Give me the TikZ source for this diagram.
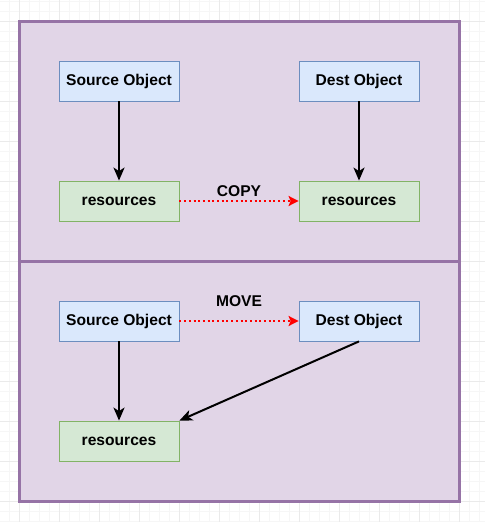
\documentclass[tikz,border=0pt]{standalone}
\usepackage{fontspec}
\setmainfont{Liberation Sans}
\usetikzlibrary{arrows.meta}
\definecolor{gridmin}{HTML}{F6F6F6}
\definecolor{gridmaj}{HTML}{EAEAEA}
\definecolor{panelfill}{HTML}{E1D5E7}
\definecolor{panelline}{HTML}{9673A6}
\definecolor{objfill}{HTML}{DAE8FC}
\definecolor{objline}{HTML}{6C8EBF}
\definecolor{resfill}{HTML}{D5E8D4}
\definecolor{resline}{HTML}{82B366}
\begin{document}
\begin{tikzpicture}[x=1pt,y=-1pt,
    panel/.style={fill=panelfill,draw=panelline,line width=3pt},
    objbox/.style={rectangle,fill=objfill,draw=objline,line width=0.8pt,
      minimum width=120pt,minimum height=40pt,inner sep=0pt,
      font=\fontsize{15.6}{18}\selectfont\bfseries},
    resbox/.style={objbox,fill=resfill,draw=resline},
    owns/.style={line width=2pt,-{Stealth[length=13pt,width=11pt,inset=3.5pt]}},
    transfer/.style={red,line width=2pt,dash pattern=on 2pt off 2.7pt,
      -{Stealth[length=10pt,width=10pt,inset=2pt]}},
    tag/.style={font=\fontsize{15.6}{18}\selectfont\bfseries,inner sep=0pt}]
  \useasboundingbox (0,0) rectangle (485,522);
  \fill[white] (0,0) rectangle (485,522);
  % canvas grid
  \foreach \g in {-1,9,...,489} \draw[gridmin,line width=0.8pt] (\g,0) -- (\g,522);
  \foreach \g in {1,11,...,521} \draw[gridmin,line width=0.8pt] (0,\g) -- (485,\g);
  \foreach \g in {19,59,...,459} \draw[gridmaj,line width=0.8pt] (\g,0) -- (\g,522);
  \foreach \g in {21,61,...,501} \draw[gridmaj,line width=0.8pt] (0,\g) -- (485,\g);
  % panels
  \draw[panel] (19,21) rectangle (459,261);
  \draw[panel] (19,261) rectangle (459,501);
  % copy
  \node[objbox] (src1) at (119,81) {Source Object};
  \node[objbox] (dst1) at (359,81) {Dest Object};
  \node[resbox] (res1) at (119,201) {resources};
  \node[resbox] (res2) at (359,201) {resources};
  \draw[owns] (src1) -- (res1);
  \draw[owns] (dst1) -- (res2);
  \draw[transfer] (res1) -- (res2);
  \node[tag] (copy) at (239,191) {COPY};
  % move
  \node[objbox] (src2) at (119,321) {Source Object};
  \node[objbox] (dst2) at (359,321) {Dest Object};
  \node[resbox] (res3) at (119,441) {resources};
  \draw[owns] (src2) -- (res3);
  \draw[owns] (dst2.south) -- (res3.north east);
  \draw[transfer] (src2) -- (dst2);
  \node[tag] (move) at (239,301) {MOVE};
\end{tikzpicture}
\end{document}
